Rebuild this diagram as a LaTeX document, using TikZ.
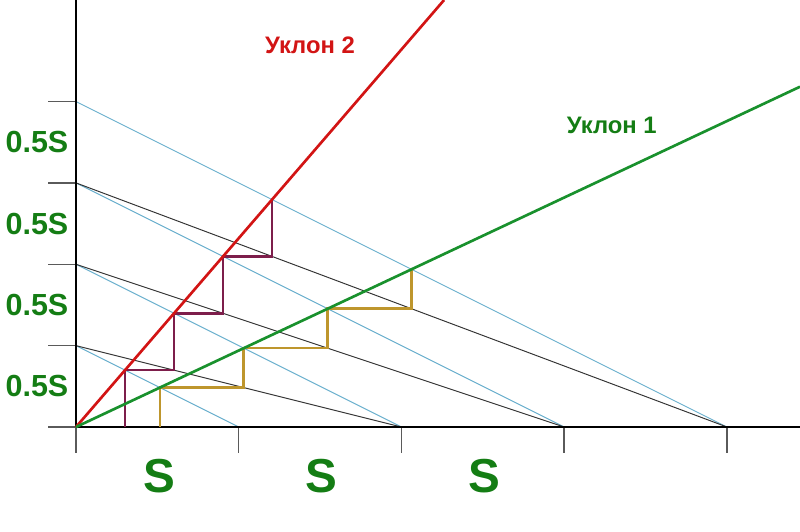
\documentclass[tikz,border=0pt]{standalone}
\usepackage{fontspec}
\setmainfont{Liberation Sans}
\usepackage{xcolor}
\usepackage{tikz}

\definecolor{slopered}{RGB}{210,20,20}
\definecolor{slopegreen}{RGB}{25,145,45}
\definecolor{lblgreen}{RGB}{20,125,20}
\definecolor{thinblue}{RGB}{105,175,205}
\definecolor{stepred}{RGB}{125,30,75}
\definecolor{stepgold}{RGB}{190,150,45}
\definecolor{tickgray}{RGB}{90,90,90}

\tikzset{
    axisline/.style={line width=1.5pt, black},
    tickline/.style={line width=0.8pt, tickgray},
    blackray/.style={line width=0.5pt, black!80},
    blueray/.style={line width=0.5pt, thinblue},
    slopeline/.style={line width=1.4pt},
    stairline/.style={line width=1.4pt, line join=miter},
    slopelbl/.style={font=\bfseries\fontsize{12.5}{13}\selectfont},
    halfS/.style={font=\bfseries\fontsize{16}{16}\selectfont, lblgreen},
    fullS/.style={font=\bfseries\fontsize{25}{25}\selectfont, lblgreen}
}

\begin{document}
\begin{tikzpicture}[x=3cm, y=3cm]
        \useasboundingbox (-0.467,-0.645) rectangle (4.449,2.624);
        
        % Slopes
        \pgfmathsetmacro{\mred}{1.16}
        \pgfmathsetmacro{\mgreen}{0.47}
        
        \coordinate (O) at (0,0);
        \coordinate (xend) at (4.449,0);
        \coordinate (yend) at (0,2.624);
        
        % Rays from the axis
        \foreach \k in {1,2,3,4} {
            \draw[blueray] (0,\k/2) -- (\k,0);
        }
        \foreach \k in {1,2,3} {
            \draw[blackray] (0,\k/2) -- (\k+1,0);
        }
        
        % Ticks
        \foreach \x in {0,1,2,3,4} {
            \draw[tickline] (\x,0) -- (\x,-0.16);
        }
        \foreach \y in {0,0.5,1,1.5,2} {
            \draw[tickline] (0,\y) -- (-0.17,\y);
        }
        
        % Axes
        \draw[axisline] (O) -- (xend);
        \draw[axisline] (O) -- (yend);
        
        % Staircases
        \foreach \m/\col in {\mred/stepred, \mgreen/stepgold} {
            \pgfmathsetmacro{\d}{2*\m+1}
            \draw[stairline, \col] ({1/\d},0)
                \foreach \k in {1,2,3} {
                    -- ({\k/\d},{\m*\k/\d}) -- ({(\k+1)/\d},{\m*\k/\d})
                } -- ({4/\d},{\m*4/\d});
        }
        
        % Slope lines
        \draw[slopeline, slopered] (O) -- ({2.624/\mred},2.624);
        \draw[slopeline, slopegreen] (O) -- (4.449,{4.449*\mgreen});
        
        % Labels
        \node[slopelbl, slopered] (lblred) at (1.438,2.347) {Уклон 2};
        \node[slopelbl, lblgreen] (lblgreen) at (3.293,1.856) {Уклон 1};
        \foreach \y [count=\i] in {0.25,0.75,1.25,1.75} {
            \node[halfS] (half\i) at (-0.24,\y) {0.5S};
        }
        \foreach \x [count=\i] in {0.5,1.5,2.5} {
            \node[fullS] (full\i) at (\x+0.01,-0.3) {S};
        }
\end{tikzpicture}
\end{document}
